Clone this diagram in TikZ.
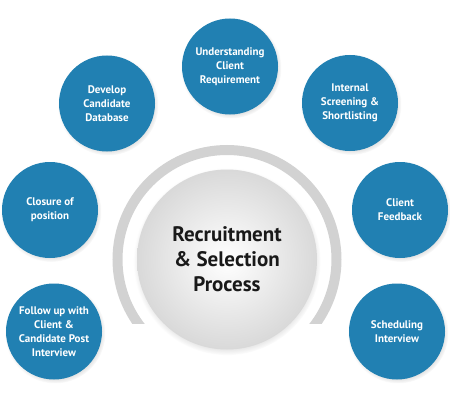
\documentclass[tikz,border=0pt]{standalone}
\usepackage{fontspec}
\setmainfont{PT Sans}
\usetikzlibrary{shadows}
\definecolor{stageblue}{RGB}{33,128,178}
\definecolor{ringgray}{RGB}{210,210,210}

\begin{document}
\begin{tikzpicture}[x=1pt, y=1pt,
	stage/.style={circle, fill=stageblue, minimum size=96pt, inner sep=0pt, align=center,
		text=white, font=\bfseries\fontsize{11}{13.8}\selectfont,
		circular drop shadow={shadow xshift=1pt, shadow yshift=-1.5pt, shadow scale=1.05, opacity=0.35}},
	hub/.style={circle, minimum size=180pt, inner sep=0pt, align=center,
		inner color=white, outer color=black!15, text=black!90,
		font=\bfseries\fontsize{21}{25}\selectfont,
		circular drop shadow={shadow xshift=0pt, shadow yshift=-2pt, shadow scale=1.04, opacity=0.4}}]
	\useasboundingbox (0,0) rectangle (450,400);
	\coordinate (mid) at (227,140.5);
	% open ring behind the hub
	\begin{scope}
		\clip (100,77) rectangle (360,270);
		\draw[ringgray, line width=10pt] (mid) circle (109.5);
	\end{scope}
	\node[hub] (process) at (mid) {Recruitment\\\& Selection\\Process};
	% the seven stages
	\node[stage] (understand) at (230,333.5) {Understanding\\Client\\Requirement};
	\node[stage] (develop) at (107,296.5) {Develop\\Candidate\\Database};
	\node[stage] (screening) at (350,297) {Internal\\Screening \&\\Shortlisting};
	\node[stage] (closure) at (50,190) {Closure of\\position};
	\node[stage] (feedback) at (400,190) {Client\\Feedback};
	\node[stage] (followup) at (54,68.5) {Follow up with\\Client \&\\Candidate Post\\Interview};
	\node[stage] (schedule) at (397,68.5) {Scheduling\\Interview};
\end{tikzpicture}
\end{document}
